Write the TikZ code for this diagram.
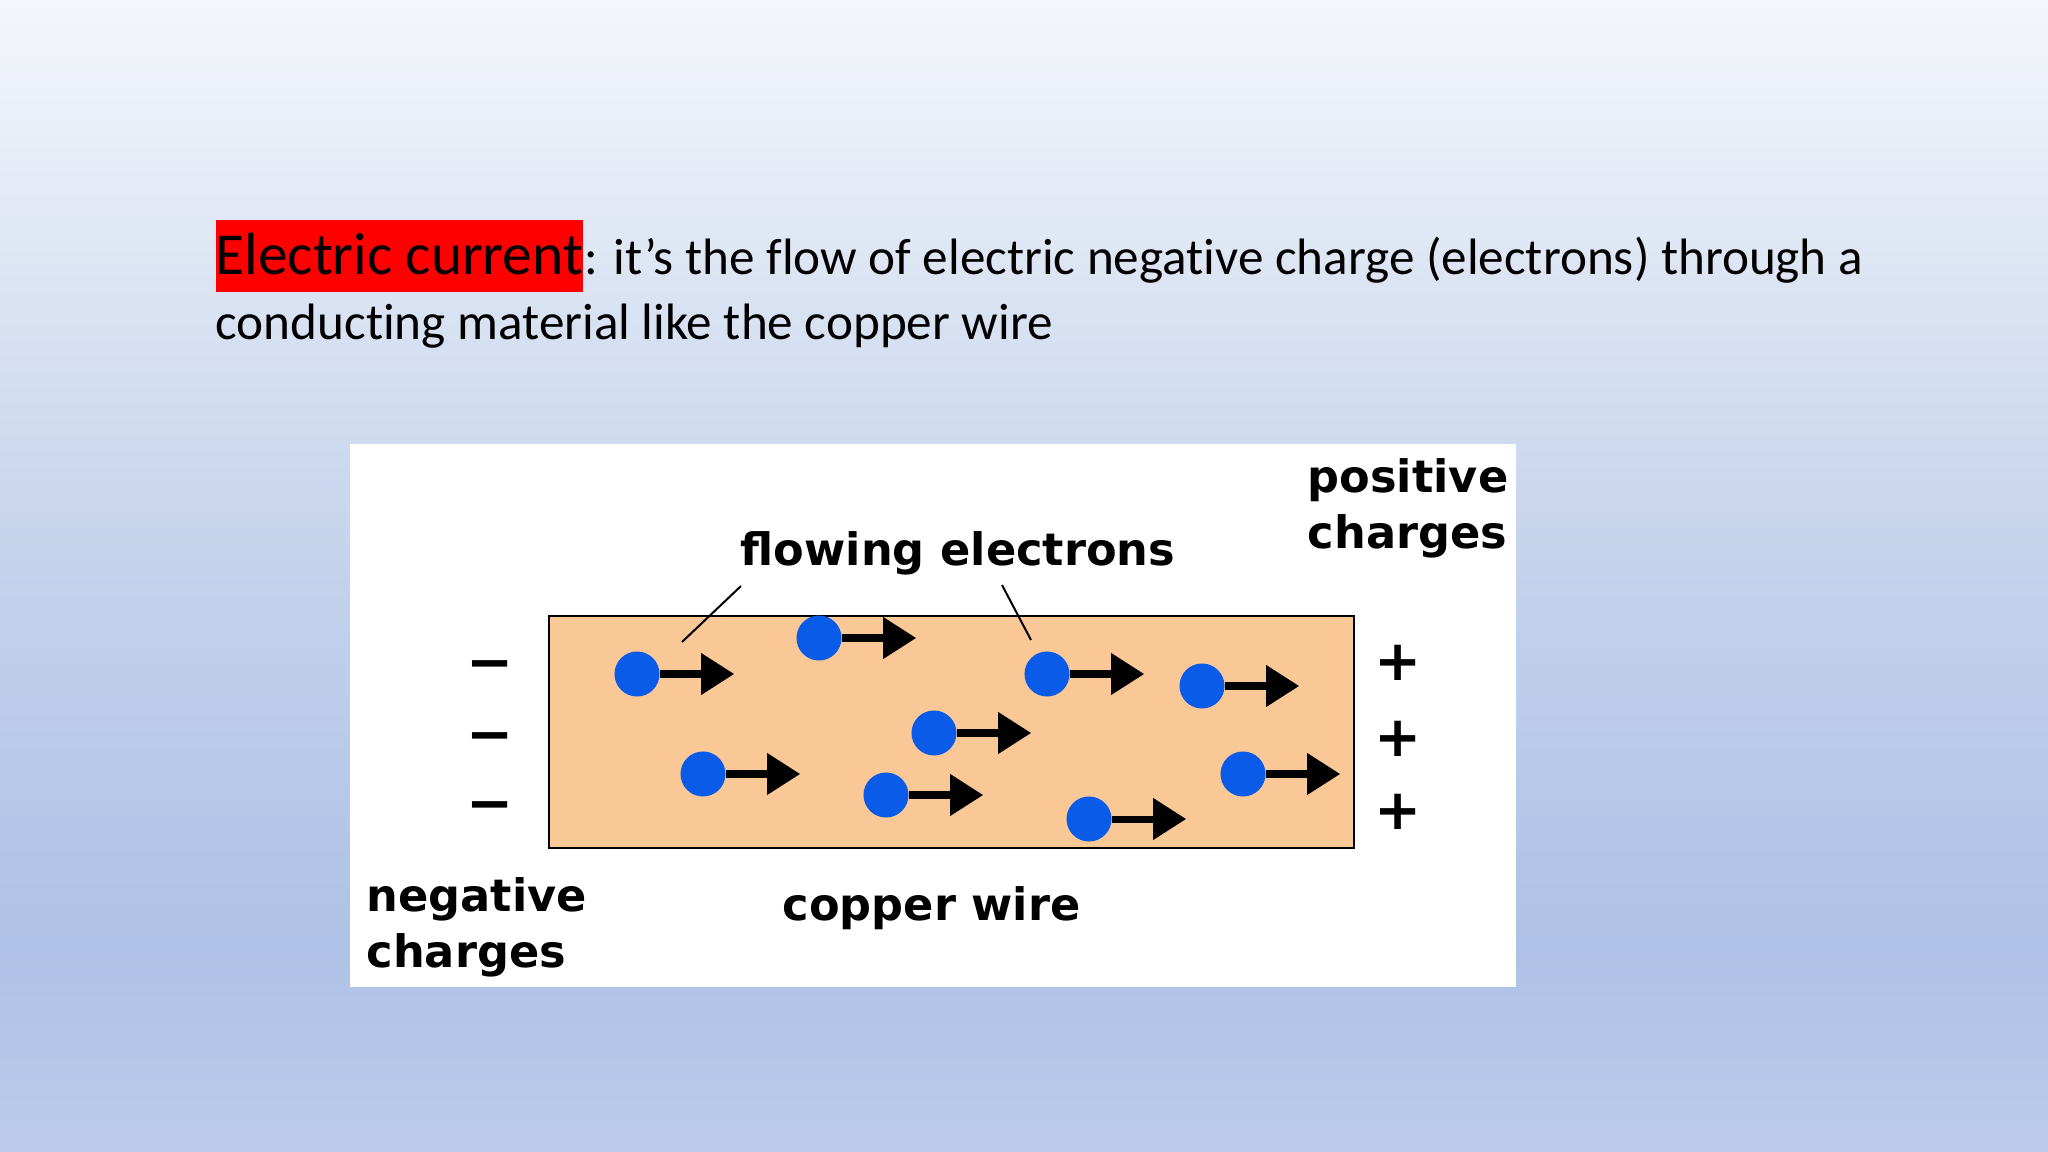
\documentclass[tikz,border=0pt]{standalone}
\usepackage{fontspec}
\setmainfont{Carlito}[Ligatures={TeX,NoCommon}]
\newfontfamily\tagfont{DejaVu Sans}
\usetikzlibrary{arrows.meta}
\usetikzlibrary{positioning}

\definecolor{bgtop}{HTML}{F4F6FB}
\definecolor{bgmid}{HTML}{C5D3EC}
\definecolor{bglow}{HTML}{AEC1E6}
\definecolor{bgbot}{HTML}{BCCBEA}
\definecolor{copper}{HTML}{F9C896}
\definecolor{eblue}{HTML}{0A5BE8}

\pgfdeclareverticalshading{slidebg}{100bp}{
    color(0bp)=(bgbot); color(25bp)=(bgbot); color(34bp)=(bglow);
    color(51bp)=(bgmid); color(75bp)=(bgtop); color(100bp)=(bgtop)}

\begin{document}
\begin{tikzpicture}[
        x=0.01cm, y=-0.01cm,
        font=\fontsize{14.55}{18}\selectfont,
        hilite/.style={
            fill=red,
            font=\fontsize{16.9}{20}\selectfont,
            inner sep=0pt,
            text height=0.55cm,
            text depth=0.17cm
        },
        plain/.style={inner sep=0pt},
        tag/.style={
            font=\tagfont\bfseries\fontsize{12.7}{15.9}\selectfont,
            inner sep=0pt,
            align=left
        },
        sign/.style={
            font=\tagfont\bfseries\fontsize{16}{16}\selectfont,
            inner sep=0pt,
            text height=0.45em,
            text depth=0pt
        },
        wirebox/.style={
            draw,
            fill=copper,
            line width=0.025cm,
            minimum width=8.05cm,
            minimum height=2.32cm
        },
        electron/.style={
            circle,
            fill=eblue,
            minimum size=0.45cm,
            inner sep=0pt
        },
        flow/.style={-{Triangle[length=0.33cm, width=0.4cm]}, line width=0.07cm},
        leader/.style={line width=0.02cm}
    ]
        \shade[shading=slidebg] (0,0) rectangle (2048,1152);
        \useasboundingbox (0,0) rectangle (2048,1152);

        \node[hilite, anchor=base west] (term) at (215,275) {Electric current};
        \node[plain, anchor=base west] (defn) at (term.base east) {: it’s the flow of electric negative charge (electrons) through a};
        \node[plain, anchor=base west] (defn2) at (215,340) {conducting material like the copper wire};

        \fill[white] (350,444) rectangle (1516,987);
        \node[wirebox] (wire) at (951.5,732) {};

        \foreach \ex/\ey [count=\i] in {637/674, 819/638, 1047/674, 1202/686, 934/733, 703/774, 886/795, 1089/819, 1243/774} {
            \node[electron] (e\i) at (\ex,\ey) {};
            \draw[flow] (e\i.east) -- ++(74,0);
        }

        \foreach \sy [count=\i] in {674, 746, 815} {
            \node[sign] (minus\i) at (490,\sy) {−};
        }
        \foreach \sy [count=\i] in {673, 749, 822} {
            \node[sign] (plus\i) at (1398,\sy) {+};
        }

        \node[tag, anchor=base] (flowing) at (958,566) {flowing electrons};
        \node[tag, anchor=base west] (positive) at (1307,548) {positive\\charges};
        \node[tag, anchor=base west] (negative) at (366,967) {negative\\charges};
        \node[tag, anchor=base west] (copperlbl) at (782,920) {copper wire};

        \coordinate (lead1) at (741,586);
        \coordinate (lead1end) at (682,642);
        \coordinate (lead2) at (1002,585);
        \coordinate (lead2end) at (1031,640);
        \draw[leader] (lead1) -- (lead1end);
        \draw[leader] (lead2) -- (lead2end);
    \end{tikzpicture}
\end{document}
